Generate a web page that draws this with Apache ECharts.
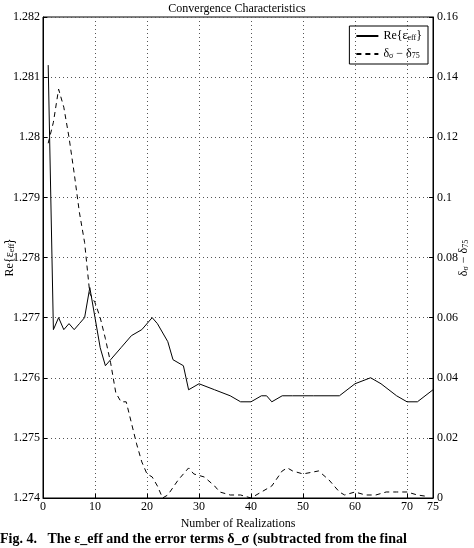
<!DOCTYPE html><html><head><meta charset="utf-8"><script src="https://cdn.jsdelivr.net/npm/echarts@6/dist/echarts.min.js"></script>
<style>body{margin:0;background:#fff}#c{width:474px;height:548px}</style></head><body><div id="c"></div><script>
const reX=[1,2,3,4,5,6,7,8,9,10,11,12,13,15,17,19,21,22,24,25,27,28,30,33,36,38,40,42,43,44,46,48,50,52,55,57,60,63,65,68,70,72,75];
const reY=[1.2812,1.2768,1.2770,1.2768,1.2769,1.2768,1.2769,1.2770,1.2775,1.2770,1.2765,1.2762,1.2763,1.2765,1.2767,1.2768,1.2770,1.2769,1.2766,1.2763,1.2762,1.2758,1.2759,1.2758,1.2757,1.2756,1.2756,1.2757,1.2757,1.2756,1.2757,1.2757,1.2757,1.2757,1.2757,1.2757,1.2759,1.2760,1.2759,1.2757,1.2756,1.2756,1.2758];
const dX=[1,2,3,4,5,6,7,8,9,10,11,12,13,14,15,16,17,18,19,20,21,22,23,24,26,28,29,31,33,34,36,38,40,42,44,46,47,48,50,53,55,57,58,60,62,64,66,68,70,72,74];
const dY=[0.118,0.125,0.136,0.130,0.120,0.108,0.095,0.085,0.068,0.065,0.060,0.053,0.045,0.035,0.032,0.032,0.025,0.018,0.012,0.008,0.007,0.004,0.000,0.001,0.006,0.010,0.008,0.007,0.004,0.002,0.001,0.001,0.000,0.002,0.004,0.009,0.010,0.009,0.008,0.009,0.006,0.002,0.001,0.002,0.001,0.001,0.002,0.002,0.002,0.001,0.0005];
const F='Liberation Serif';
const rich={n:{fontSize:12,fontFamily:F,fill:'#000',color:'#000'},s:{fontSize:8,fontFamily:F,fill:'#000',color:'#000',verticalAlign:'bottom'}};
const c=echarts.init(document.getElementById('c'));
const split={show:true,lineStyle:{type:[1,3],color:'#555'}};
c.setOption({
 animation:false,
 title:{text:'Convergence Characteristics',left:'center',top:-2,textStyle:{fontFamily:F,fontWeight:'normal',fontSize:12,color:'#000'}},
 grid:{left:43,right:41,top:17,bottom:50,outerBoundsMode:'none',containLabel:false},
 legend:{right:46,top:26,orient:'vertical',itemWidth:22,itemGap:6,itemStyle:{opacity:0},borderColor:'#000',borderWidth:1,padding:[4,6],textStyle:{fontFamily:F,fontSize:12,color:'#000',rich:rich},
  data:['Re{ε_eff}','δσ − δ75'],
  formatter:n=>n==='Re{ε_eff}'?'{n|Re{ε}{s|eff}{n|\}}':'{n|δ}{s|σ}{n| − δ}{s|75}'},
 xAxis:{type:'value',min:0,max:75,interval:10,name:'Number of Realizations',nameLocation:'middle',nameGap:15,nameTextStyle:{fontFamily:F,fontSize:12,color:'#000'},
  axisLine:{lineStyle:{color:'#000'}},axisTick:{inside:true,length:4},axisLabel:{fontFamily:F,fontSize:12,color:'#000',margin:3},splitLine:split},
 yAxis:[{type:'value',min:1.274,max:1.282,interval:0.001,
  axisLine:{show:true,lineStyle:{color:'#000'}},axisTick:{inside:true,length:4},axisLabel:{fontFamily:F,fontSize:12,color:'#000',margin:3,formatter:v=>String(+v.toFixed(3))},splitLine:split},
  {type:'value',min:0,max:0.16,interval:0.02,
  axisLine:{show:true,lineStyle:{color:'#000'}},axisTick:{inside:true,length:4},axisLabel:{fontFamily:F,fontSize:12,color:'#000',margin:4,formatter:v=>String(+v.toFixed(2))},splitLine:{show:false}}],
 series:[{name:'Re{ε_eff}',type:'line',yAxisIndex:0,symbol:'none',color:'#000',data:reX.map((x,i)=>[x,reY[i]]),lineStyle:{color:'#000',width:1}},
  {name:'δσ − δ75',type:'line',yAxisIndex:1,symbol:'none',color:'#000',data:dX.map((x,i)=>[x,dY[i]]),lineStyle:{color:'#000',width:1,type:[5,4]}}],
 graphic:[{type:'rect',shape:{x:43,y:17,width:390,height:481},style:{fill:'none',stroke:'#000',lineWidth:1},silent:true},
  {type:'text',x:4,y:258,rotation:Math.PI/2,style:{text:'{n|Re{ε}{s|eff}{n|\}}',rich:rich,align:'center',verticalAlign:'top'}},
  {type:'text',x:470,y:258,rotation:Math.PI/2,style:{text:'{n|δ}{s|σ}{n| − δ}{s|75}',rich:rich,align:'center',verticalAlign:'bottom'}},
  {type:'text',left:0,top:532,style:{text:'Fig. 4.   The ε_eff and the error terms δ_σ (subtracted from the final',font:'bold 14px "Liberation Serif"',fill:'#000'}}]
});
</script></body></html>
